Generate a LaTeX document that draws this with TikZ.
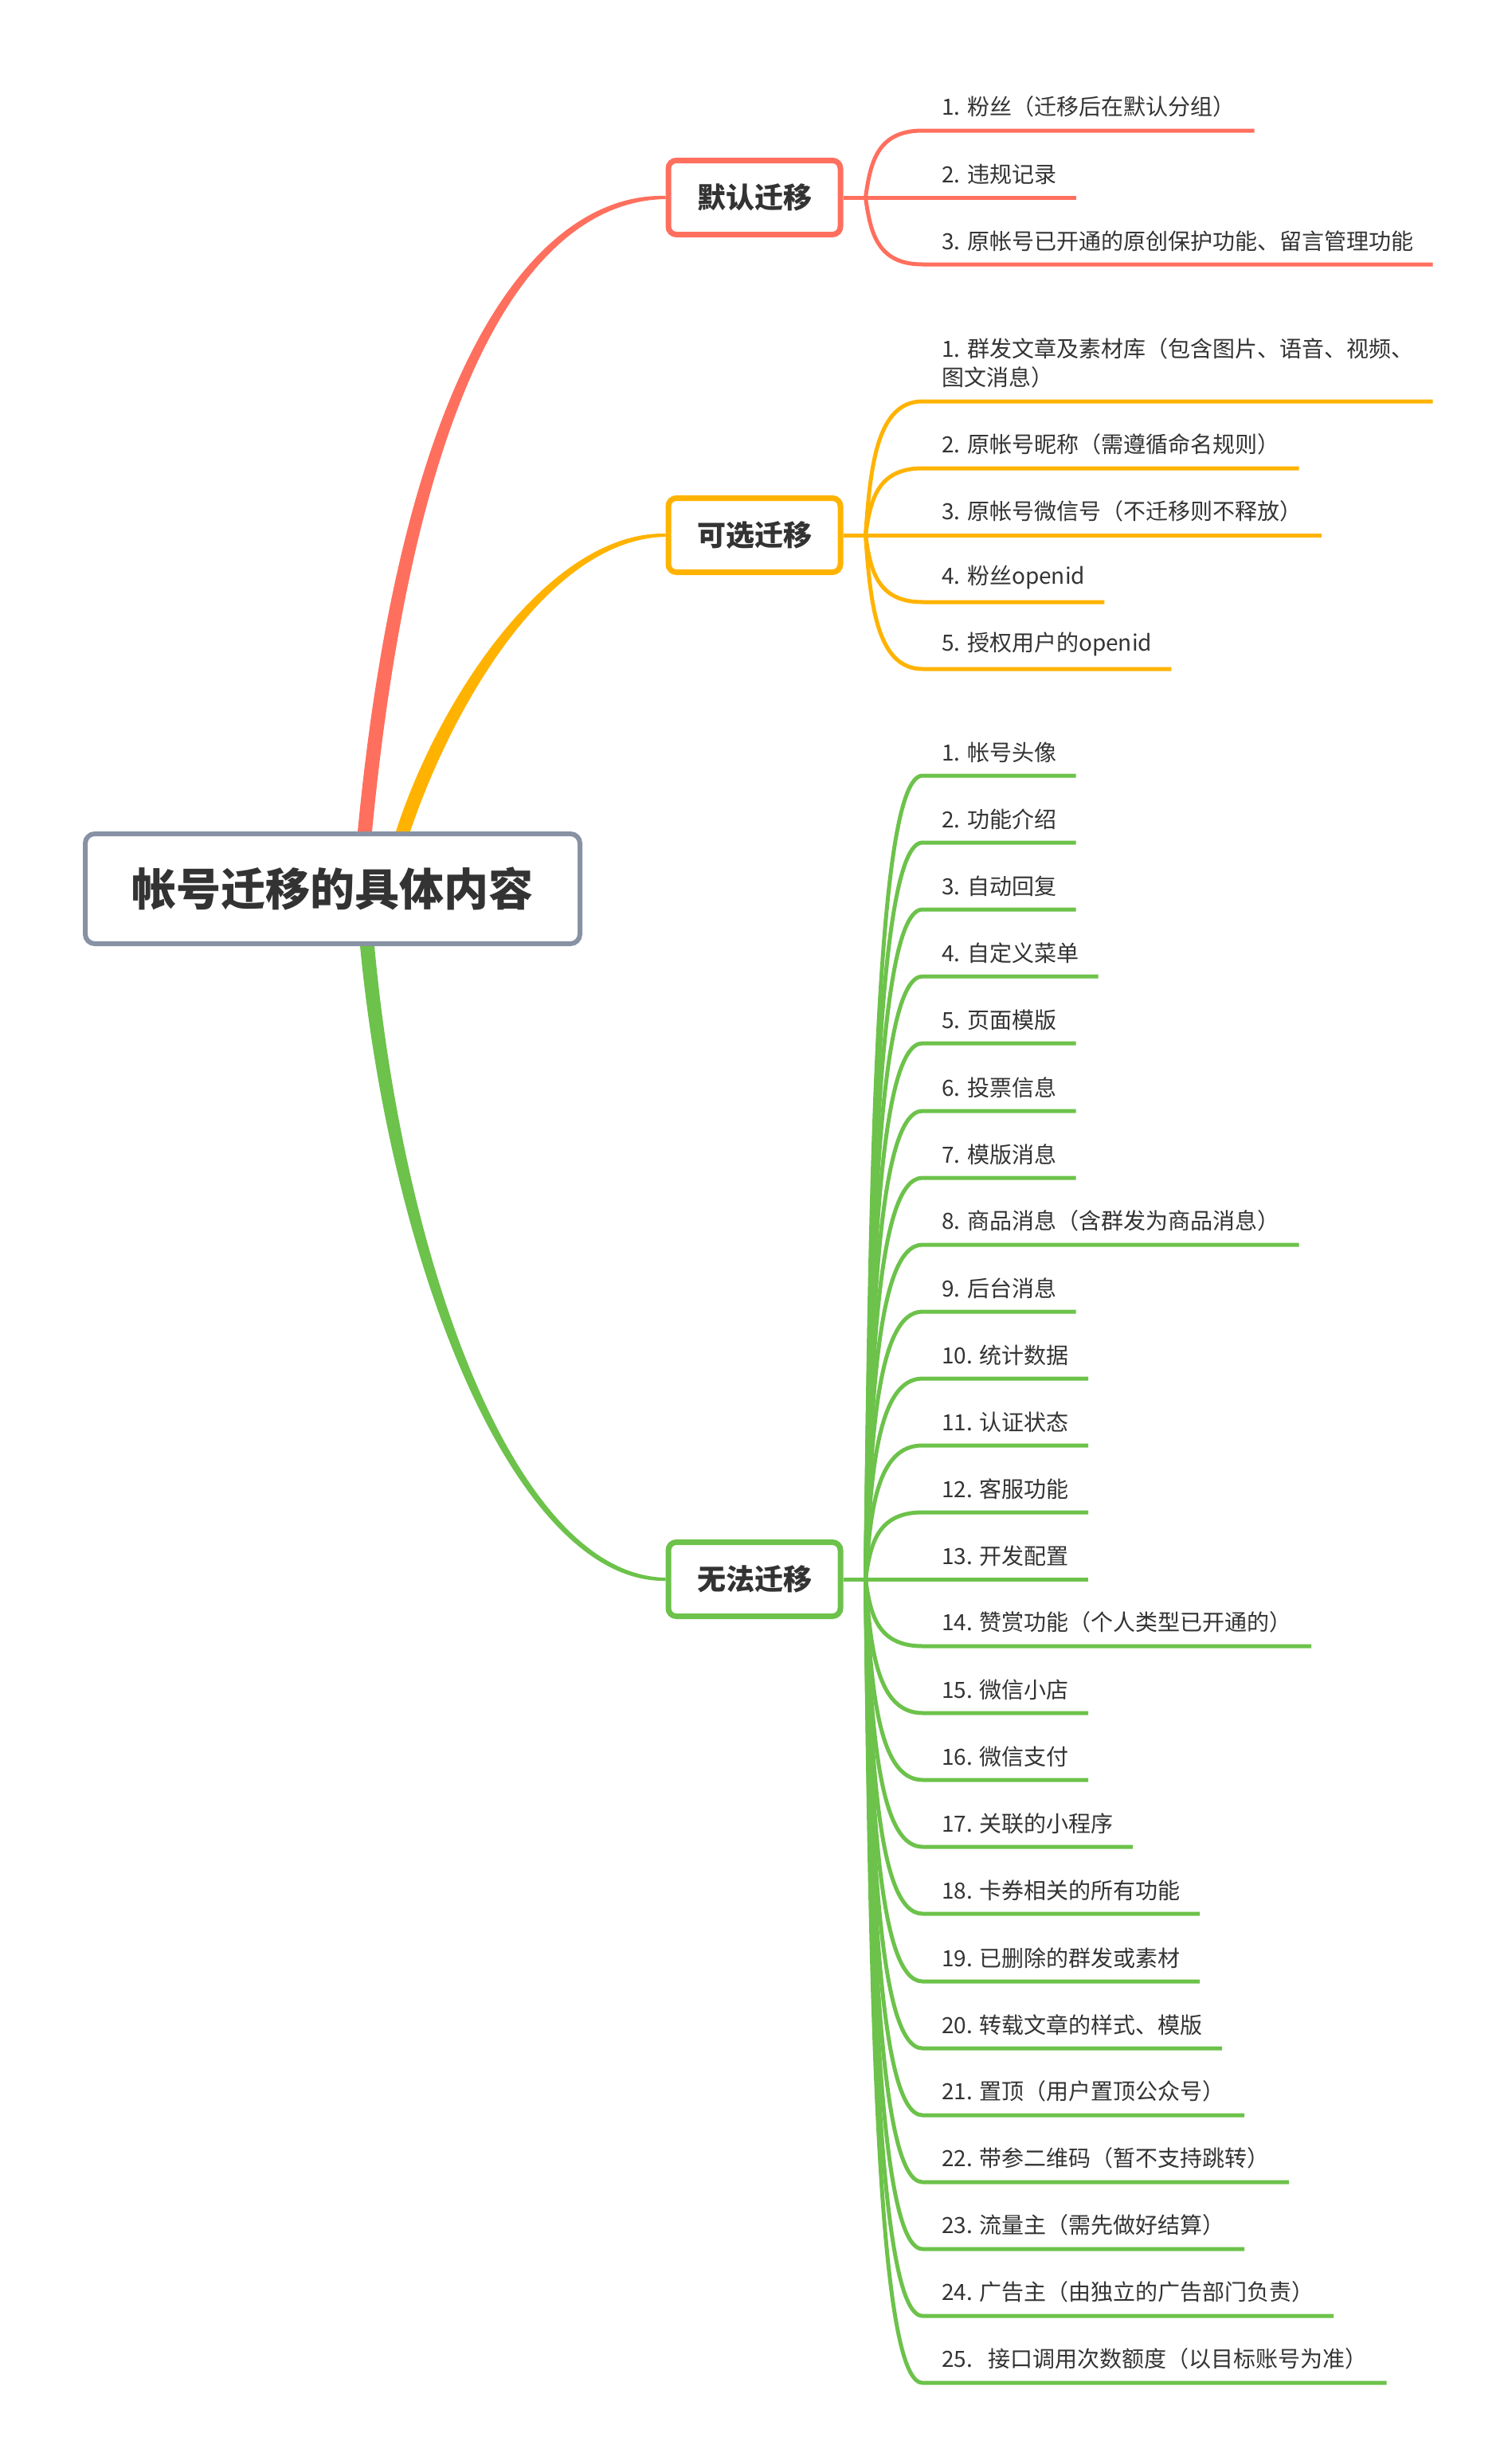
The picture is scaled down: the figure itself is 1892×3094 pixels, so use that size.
\documentclass[tikz,border=0pt]{standalone}
\usepackage{fontspec}
\setmainfont{Noto Sans CJK SC}
\usepackage{tikz}
\usetikzlibrary{positioning}
\usepackage{xcolor}
\definecolor{rootgray}{HTML}{8792A4}
\definecolor{redline}{HTML}{FF6F5E}
\definecolor{orangeline}{HTML}{FFB300}
\definecolor{greenline}{HTML}{6CC24A}
\definecolor{darktext}{HTML}{333333}

\tikzset{
  rootbox/.style={draw=rootgray, line width=3pt, rounded corners=6pt, fill=white, minimum width=310.5pt, minimum height=69pt, font=\fontsize{28}{34}\selectfont\bfseries, text=darktext},
  topicbox/.style={draw, line width=3.5pt, rounded corners=5pt, fill=white, minimum width=108pt, minimum height=46.5pt, font=\fontsize{18}{22}\selectfont\bfseries, text=darktext},
  leaf/.style={anchor=south west, inner xsep=12pt, inner ysep=8pt, font=\fontsize{14}{18}\selectfont, text=darktext, align=left},
  twig/.style={line width=2.5pt},
}

\begin{document}
\begin{tikzpicture}[x=0.5pt,y=-0.5pt]
            \useasboundingbox (0,0) rectangle (1892,3094);

            \node[rootbox] (root) at (417.5,1116) {帐号迁移的具体内容};
            \node[topicbox, draw=redline] (rd) at (947,248) {默认迁移};
            \node[topicbox, draw=orangeline] (od) at (947,672) {可选迁移};
            \node[topicbox, draw=greenline] (gr) at (947,1983) {无法迁移};

            \fill[redline] ([xshift=15.75pt]root.north) .. controls (511,397) and (700,242) .. ([yshift=1pt]rd.west) -- ([yshift=-1pt]rd.west) .. controls (700,252) and (529,403) .. ([xshift=24.75pt]root.north) -- cycle;
            \fill[orangeline] ([xshift=39.75pt]root.north) .. controls (551,876) and (690,667) .. ([yshift=1pt]od.west) -- ([yshift=-1pt]od.west) .. controls (690,677) and (569,884) .. ([xshift=48.75pt]root.north) -- cycle;
            \fill[greenline] ([xshift=17.25pt]root.south) .. controls (492,1603) and (650,1988) .. ([yshift=-1pt]gr.west) -- ([yshift=1pt]gr.west) .. controls (650,1978) and (508,1597) .. ([xshift=26.25pt]root.south) -- cycle;

            \coordinate (rj) at ([xshift=14pt]rd.east);
            \coordinate (oj) at ([xshift=14pt]od.east);
            \coordinate (gj) at ([xshift=14pt]gr.east);

            \node[leaf] (r1) at (1158,164) {1. 粉丝（迁移后在默认分组）};
            \node[leaf] (r2) at (1158,248) {2. 违规记录};
            \node[leaf] (r3) at (1158,332) {3. 原帐号已开通的原创保护功能、留言管理功能};

            \draw[twig, redline] (rd.east) -- (rj);
            \draw[twig, redline] (rj) .. controls +(6,-42) and +(-58,0) .. (r1.south west) -- (r1.south east);
            \draw[twig, redline] (rj) -- (r2.south west) -- (r2.south east);
            \draw[twig, redline] (rj) .. controls +(6,42) and +(-58,0) .. (r3.south west) -- (r3.south east);

            \node[leaf] (o1) at (1158,504) {1. 群发文章及素材库（包含图片、语音、视频、\\图文消息）};
            \node[leaf] (o2) at (1158,588) {2. 原帐号昵称（需遵循命名规则）};
            \node[leaf] (o3) at (1158,672) {3. 原帐号微信号（不迁移则不释放）};
            \node[leaf] (o4) at (1158,756) {4. 粉丝openid};
            \node[leaf] (o5) at (1158,840) {5. 授权用户的openid};

            \draw[twig, orangeline] (od.east) -- (oj);
            \draw[twig, orangeline] (oj) .. controls +(6,-84) and +(-58,0) .. (o1.south west) -- (o1.south east);
            \draw[twig, orangeline] (oj) .. controls +(6,-42) and +(-58,0) .. (o2.south west) -- (o2.south east);
            \draw[twig, orangeline] (oj) -- (o3.south west) -- (o3.south east);
            \draw[twig, orangeline] (oj) .. controls +(6,42) and +(-58,0) .. (o4.south west) -- (o4.south east);
            \draw[twig, orangeline] (oj) .. controls +(6,84) and +(-58,0) .. (o5.south west) -- (o5.south east);

            \node[leaf] (g1) at (1158,974) {1. 帐号头像};
            \node[leaf] (g2) at (1158,1058) {2. 功能介绍};
            \node[leaf] (g3) at (1158,1142) {3. 自动回复};
            \node[leaf] (g4) at (1158,1226) {4. 自定义菜单};
            \node[leaf] (g5) at (1158,1310) {5. 页面模版};
            \node[leaf] (g6) at (1158,1395) {6. 投票信息};
            \node[leaf] (g7) at (1158,1479) {7. 模版消息};
            \node[leaf] (g8) at (1158,1563) {8. 商品消息（含群发为商品消息）};
            \node[leaf] (g9) at (1158,1647) {9. 后台消息};
            \node[leaf] (g10) at (1158,1731) {10. 统计数据};
            \node[leaf] (g11) at (1158,1815) {11. 认证状态};
            \node[leaf] (g12) at (1158,1899) {12. 客服功能};
            \node[leaf] (g13) at (1158,1983) {13. 开发配置};
            \node[leaf] (g14) at (1158,2067) {14. 赞赏功能（个人类型已开通的）};
            \node[leaf] (g15) at (1158,2151) {15. 微信小店};
            \node[leaf] (g16) at (1158,2235) {16. 微信支付};
            \node[leaf] (g17) at (1158,2319) {17. 关联的小程序};
            \node[leaf] (g18) at (1158,2403) {18. 卡券相关的所有功能};
            \node[leaf] (g19) at (1158,2488) {19. 已删除的群发或素材};
            \node[leaf] (g20) at (1158,2572) {20. 转载文章的样式、模版};
            \node[leaf] (g21) at (1158,2656) {21. 置顶（用户置顶公众号）};
            \node[leaf] (g22) at (1158,2740) {22. 带参二维码（暂不支持跳转）};
            \node[leaf] (g23) at (1158,2824) {23. 流量主（需先做好结算）};
            \node[leaf] (g24) at (1158,2908) {24. 广告主（由独立的广告部门负责）};
            \node[leaf] (g25) at (1158,2992) {25.\ \ \ 接口调用次数额度（以目标账号为准）};

            \draw[twig, greenline] (gr.east) -- (gj);
            \draw[twig, greenline] (gj) .. controls +(6,-505) and +(-58,0) .. (g1.south west) -- (g1.south east);
            \draw[twig, greenline] (gj) .. controls +(6,-463) and +(-58,0) .. (g2.south west) -- (g2.south east);
            \draw[twig, greenline] (gj) .. controls +(6,-421) and +(-58,0) .. (g3.south west) -- (g3.south east);
            \draw[twig, greenline] (gj) .. controls +(6,-379) and +(-58,0) .. (g4.south west) -- (g4.south east);
            \draw[twig, greenline] (gj) .. controls +(6,-337) and +(-58,0) .. (g5.south west) -- (g5.south east);
            \draw[twig, greenline] (gj) .. controls +(6,-294) and +(-58,0) .. (g6.south west) -- (g6.south east);
            \draw[twig, greenline] (gj) .. controls +(6,-252) and +(-58,0) .. (g7.south west) -- (g7.south east);
            \draw[twig, greenline] (gj) .. controls +(6,-210) and +(-58,0) .. (g8.south west) -- (g8.south east);
            \draw[twig, greenline] (gj) .. controls +(6,-168) and +(-58,0) .. (g9.south west) -- (g9.south east);
            \draw[twig, greenline] (gj) .. controls +(6,-126) and +(-58,0) .. (g10.south west) -- (g10.south east);
            \draw[twig, greenline] (gj) .. controls +(6,-84) and +(-58,0) .. (g11.south west) -- (g11.south east);
            \draw[twig, greenline] (gj) .. controls +(6,-42) and +(-58,0) .. (g12.south west) -- (g12.south east);
            \draw[twig, greenline] (gj) -- (g13.south west) -- (g13.south east);
            \draw[twig, greenline] (gj) .. controls +(6,42) and +(-58,0) .. (g14.south west) -- (g14.south east);
            \draw[twig, greenline] (gj) .. controls +(6,84) and +(-58,0) .. (g15.south west) -- (g15.south east);
            \draw[twig, greenline] (gj) .. controls +(6,126) and +(-58,0) .. (g16.south west) -- (g16.south east);
            \draw[twig, greenline] (gj) .. controls +(6,168) and +(-58,0) .. (g17.south west) -- (g17.south east);
            \draw[twig, greenline] (gj) .. controls +(6,210) and +(-58,0) .. (g18.south west) -- (g18.south east);
            \draw[twig, greenline] (gj) .. controls +(6,252) and +(-58,0) .. (g19.south west) -- (g19.south east);
            \draw[twig, greenline] (gj) .. controls +(6,294) and +(-58,0) .. (g20.south west) -- (g20.south east);
            \draw[twig, greenline] (gj) .. controls +(6,337) and +(-58,0) .. (g21.south west) -- (g21.south east);
            \draw[twig, greenline] (gj) .. controls +(6,379) and +(-58,0) .. (g22.south west) -- (g22.south east);
            \draw[twig, greenline] (gj) .. controls +(6,421) and +(-58,0) .. (g23.south west) -- (g23.south east);
            \draw[twig, greenline] (gj) .. controls +(6,463) and +(-58,0) .. (g24.south west) -- (g24.south east);
            \draw[twig, greenline] (gj) .. controls +(6,505) and +(-58,0) .. (g25.south west) -- (g25.south east);
        \end{tikzpicture}
\end{document}
